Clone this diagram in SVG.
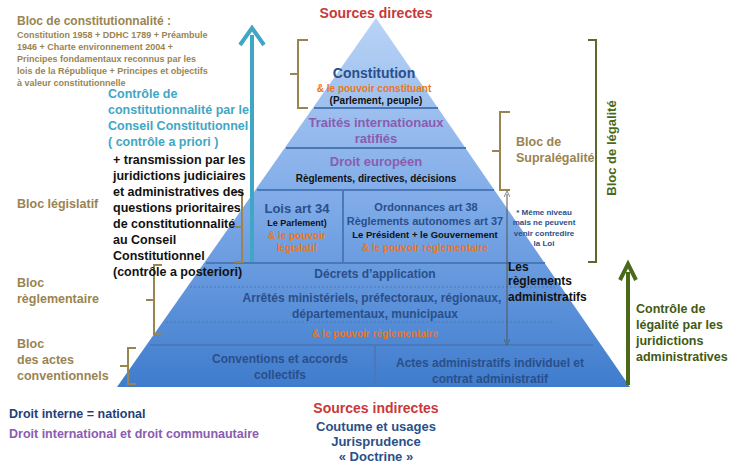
<svg xmlns="http://www.w3.org/2000/svg" width="751" height="469" viewBox="0 0 751 469">
<defs>
<linearGradient id="g" x1="0" y1="0" x2="0" y2="1"><stop offset="0" stop-color="#b9d3f5"/><stop offset="0.5" stop-color="#7fabe8"/><stop offset="1" stop-color="#3f7ccd"/></linearGradient>
<marker id="ah" viewBox="0 0 10 10" refX="5" refY="5" markerWidth="6" markerHeight="6" orient="auto-start-reverse"><path d="M0,0 L10,5 L0,10" fill="none" stroke="#555" stroke-width="1.2"/></marker>
</defs>
<style>
text{font-family:"Liberation Sans",Arial,sans-serif;font-weight:bold;text-anchor:middle}
.n{fill:#2a4f8a}.o{fill:#e87722}.k{fill:#111}.p{fill:#8a5cb0}.gold{fill:#9a8451;text-anchor:start}
.sep{stroke:#4a78b8;stroke-width:2;fill:none}
.dash{stroke:#4a78b8;stroke-width:1;stroke-dasharray:2 2;fill:none}
.br{stroke:#9a8451;stroke-width:2;fill:none}
.bg{stroke:#5a6a2a;stroke-width:2;fill:none}
</style>
<g id="pyramid">
<polygon points="376,18 117,387 630,387" fill="url(#g)"/>
</g>
<g id="connectors">
<line class="sep" x1="314" y1="108" x2="438" y2="108"/>
<line class="sep" x1="286" y1="148" x2="466" y2="148"/>
<line class="sep" x1="257" y1="190" x2="494" y2="190"/>
<line class="sep" x1="206" y1="263" x2="545" y2="263"/>
<line class="sep" x1="343" y1="190" x2="343" y2="263"/>
<line class="dash" x1="190" y1="287" x2="555" y2="287"/>
<line class="dash" x1="166" y1="322" x2="555" y2="322"/>
<line class="sep" x1="150" y1="345" x2="593" y2="345"/>
<line class="sep" x1="375" y1="345" x2="375" y2="387"/>
<line x1="507" y1="194" x2="507" y2="342" stroke="#555" stroke-width="1" marker-start="url(#ah)" marker-end="url(#ah)"/>
<line x1="252" y1="262" x2="252" y2="35" stroke="#3fa7c5" stroke-width="4"/>
<path d="M240,45 L252,28 L264,45" stroke="#3fa7c5" stroke-width="4" fill="none"/>
<line x1="628" y1="385" x2="628" y2="272" stroke="#4a6a1a" stroke-width="4"/>
<path d="M620,280 L628,264 L636,280" stroke="#4a6a1a" stroke-width="4" fill="none"/>
<path class="br" d="M308,40 H298 V108 H308 M298,74 H290"/>
<path class="br" d="M510,112 H500 V190 H510 M500,151 H492"/>
<path class="br" d="M234,192 H242 V262 H234 M242,227 H235"/>
<path class="br" d="M162,265 H154 V334 H162 M154,300 H146"/>
<path class="br" d="M136,348 H128 V384 H136 M128,366 H120"/>
<path class="bg" d="M588,40 H596 V262 H588"/>
</g>
<g id="labels">
<text x="376" y="18" fill="#c9383a" font-size="14">Sources directes</text>
<text x="376" y="413" fill="#c9383a" font-size="14">Sources indirectes</text>
<text class="n" x="376" y="431" font-size="13" fill="#1f3f7a">Coutume et usages</text>
<text class="n" x="376" y="446" font-size="13" fill="#1f3f7a">Jurisprudence</text>
<text class="n" x="376" y="461" font-size="13" fill="#1f3f7a">« Doctrine »</text>
</g>
<g id="n-constitution"><text class="n" x="374" y="78" font-size="14">Constitution</text><text class="o" x="374" y="92" font-size="10">&amp; le pouvoir constituant</text><text class="k" x="376" y="104" font-size="10">(Parlement, peuple)</text></g>
<g id="n-traites"><text class="p" x="376" y="127" font-size="13">Traités internationaux</text><text class="p" x="376" y="143" font-size="13">ratifiés</text></g>
<g id="n-europeen"><text class="p" x="376" y="166" font-size="13">Droit européen</text><text class="k" x="376" y="182" font-size="10">Règlements, directives, décisions</text></g>
<g id="n-lois"><text class="n" x="297" y="213" font-size="13">Lois art 34</text><text class="k" x="297" y="226" font-size="9">Le Parlement)</text><text class="o" x="297" y="239" font-size="10">&amp; le pouvoir</text><text class="o" x="297" y="251" font-size="10">législatif</text></g>
<g id="n-ordonnances"><text class="n" x="426" y="211" font-size="11">Ordonnances  art 38</text><text class="n" x="425" y="225" font-size="11">Règlements  autonomes  art 37</text><text class="k" x="425" y="238" font-size="9.5">Le Président + le Gouvernement</text><text class="o" x="425" y="251" font-size="10">&amp; le pouvoir règlementaire</text></g>
<g id="n-decrets"><text class="n" x="375" y="278" font-size="12">Décrets d’application</text></g>
<g id="n-arretes"><text class="n" x="372" y="302" font-size="12">Arrêtés ministériels, préfectoraux, régionaux,</text><text class="n" x="375" y="318" font-size="12">départementaux, municipaux</text><text class="o" x="375" y="337" font-size="10">&amp; le pouvoir règlementaire</text></g>
<g id="n-conventions"><text class="n" x="280" y="363" font-size="12">Conventions et accords</text><text class="n" x="280" y="379" font-size="12">collectifs</text></g>
<g id="n-actes"><text class="n" x="490" y="367" font-size="12">Actes administratifs  individuel  et</text><text class="n" x="490" y="383" font-size="12">contrat administratif</text></g>
<g id="n-reglements"><text class="k" x="508" y="271" font-size="12" style="text-anchor:start">Les</text><text class="k" x="508" y="285" font-size="12" style="text-anchor:start">règlements</text><text class="k" x="508" y="301" font-size="12" style="text-anchor:start">administratifs</text></g>
<g id="n-meme" font-weight="normal"><text x="544" y="215" font-size="8" fill="#2a4f8a" font-weight="normal">* Même niveau</text><text x="544" y="225" font-size="8" fill="#2a4f8a" font-weight="normal">mais ne peuvent</text><text x="544" y="236" font-size="8" fill="#2a4f8a" font-weight="normal">venir contredire</text><text x="544" y="246" font-size="8" fill="#2a4f8a" font-weight="normal">la Loi</text></g>
<g id="n-blocconst"><text class="gold" x="17" y="25" font-size="12">Bloc de constitutionnalité :</text>
<text class="gold" x="17" y="38" font-size="9">Constitution 1958 + DDHC 1789 + Préambule</text>
<text class="gold" x="17" y="50" font-size="9">1946 + Charte environnement 2004 +</text>
<text class="gold" x="17" y="62" font-size="9">Principes fondamentaux reconnus par les</text>
<text class="gold" x="17" y="74" font-size="9">lois de la République + Principes et objectifs</text>
<text class="gold" x="17" y="86" font-size="9">à valeur constitutionnelle</text></g>
<g id="n-controle" fill="#3fa7c5"><text x="108" y="98" font-size="12.5" fill="#3fa7c5" style="text-anchor:start">Contrôle de</text><text x="108" y="114" font-size="12.5" fill="#3fa7c5" style="text-anchor:start">constitutionnalité par le</text><text x="108" y="130" font-size="12.5" fill="#3fa7c5" style="text-anchor:start">Conseil Constitutionnel</text><text x="108" y="146" font-size="12.5" fill="#3fa7c5" style="text-anchor:start">( contrôle a priori )</text></g>
<g id="n-qpc"><text x="113" y="164" font-size="12.5" fill="#111" font-weight="normal" style="text-anchor:start">+ transmission par les</text><text x="113" y="180" font-size="12.5" fill="#111" font-weight="normal" style="text-anchor:start">juridictions judiciaires</text><text x="113" y="196" font-size="12.5" fill="#111" font-weight="normal" style="text-anchor:start">et administratives des</text><text x="113" y="212" font-size="12.5" fill="#111" font-weight="normal" style="text-anchor:start">questions prioritaires</text><text x="113" y="228" font-size="12.5" fill="#111" font-weight="normal" style="text-anchor:start">de constitutionnalité</text><text x="113" y="244" font-size="12.5" fill="#111" font-weight="normal" style="text-anchor:start">au Conseil</text><text x="113" y="260" font-size="12.5" fill="#111" font-weight="normal" style="text-anchor:start">Constitutionnel</text><text x="113" y="276" font-size="12.5" fill="#111" font-weight="normal" style="text-anchor:start">(contrôle a posteriori)</text></g>
<g id="n-bloclegis"><text class="gold" x="17" y="208" font-size="12.5">Bloc législatif</text></g>
<g id="n-blocregl"><text class="gold" x="17" y="287" font-size="12.5">Bloc</text><text class="gold" x="17" y="303" font-size="12.5">règlementaire</text></g>
<g id="n-blocconv"><text class="gold" x="17" y="348" font-size="12.5">Bloc</text><text class="gold" x="17" y="364" font-size="12.5">des actes</text><text class="gold" x="17" y="380" font-size="12.5">conventionnels</text></g>
<g id="n-supra"><text class="gold" x="516" y="146" font-size="12.5">Bloc de</text><text class="gold" x="516" y="162" font-size="12.5">Supralégalité</text></g>
<g id="n-legalite"><text x="616" y="148" font-size="13" fill="#4a6a1a" transform="rotate(-90 616 148)">Bloc  de  légalité</text></g>
<g id="n-controlelegal"><text x="636" y="313" font-size="12.5" fill="#3f5a16" style="text-anchor:start">Contrôle de</text><text x="636" y="329" font-size="12.5" fill="#3f5a16" style="text-anchor:start">légalité par les</text><text x="636" y="345" font-size="12.5" fill="#3f5a16" style="text-anchor:start">juridictions</text><text x="636" y="361" font-size="12.5" fill="#3f5a16" style="text-anchor:start">administratives</text></g>
<g id="legend"><text x="9" y="418" font-size="12.5" fill="#1f3f7a" style="text-anchor:start">Droit interne = national</text><text x="9" y="438" font-size="12.5" fill="#8a5cb0" style="text-anchor:start">Droit international et droit communautaire</text></g>
</svg>
